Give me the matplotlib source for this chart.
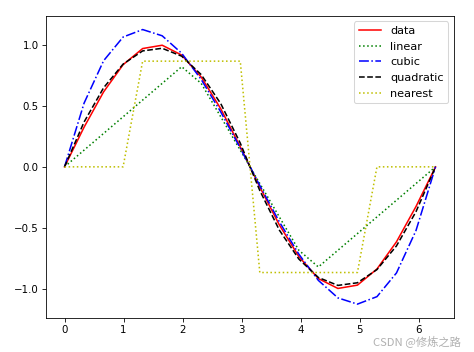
import matplotlib
matplotlib.use('Agg')
import matplotlib.pyplot as plt

# sample grid (20 points over 0..2pi) and curves
x_new = [0.0, 0.3307, 0.6614, 0.9921, 1.3228, 1.6535, 1.9842, 2.3149, 2.6456, 2.9762,
         3.3069, 3.6376, 3.9683, 4.2990, 4.6297, 4.9604, 5.2911, 5.6218, 5.9525, 6.2832]

data = [0.0, 0.3247, 0.6142, 0.8372, 0.9694, 0.9966, 0.9158, 0.7357, 0.4759, 0.1646,
        -0.1646, -0.4759, -0.7357, -0.9158, -0.9966, -0.9694, -0.8372, -0.6142, -0.3247, 0.0]

linear = [0.0, 0.1367, 0.2735, 0.4102, 0.5470, 0.6837, 0.8205, 0.6836, 0.4102, 0.1367,
          -0.1367, -0.4102, -0.6836, -0.8205, -0.6837, -0.5470, -0.4102, -0.2735, -0.1367, 0.0]

cubic = [0.0, 0.5216, 0.8693, 1.0637, 1.1250, 1.0739, 0.9307, 0.7159, 0.4500, 0.1534,
         -0.1534, -0.4500, -0.7159, -0.9307, -1.0739, -1.1250, -1.0637, -0.8693, -0.5216, 0.0]

quadratic = [0.0, 0.3671, 0.6477, 0.8420, 0.9500, 0.9716, 0.9068, 0.7557, 0.5181, 0.1943,
             -0.1943, -0.5181, -0.7557, -0.9068, -0.9716, -0.9500, -0.8420, -0.6477, -0.3671, 0.0]

nearest = [0.0, 0.0, 0.0, 0.0, 0.866, 0.866, 0.866, 0.866, 0.866, 0.866,
           -0.866, -0.866, -0.866, -0.866, -0.866, -0.866, 0.0, 0.0, 0.0, 0.0]

fig = plt.figure(figsize=(6.4, 4.753), dpi=74.0625)
ax = fig.add_subplot(111)
fig.subplots_adjust(left=0.097, right=0.958, bottom=0.097, top=0.955)

ax.plot(x_new, data, 'r', label='data')
ax.plot(x_new, linear, 'g:', label='linear')
ax.plot(x_new, cubic, 'b-.', label='cubic')
ax.plot(x_new, quadratic, 'k--', label='quadratic')
ax.plot(x_new, nearest, 'y:', label='nearest')
ax.legend(fontsize=11)

# watermark
fig.text(0.972, 0.012, 'CSDN @修炼之路', ha='right', va='bottom', fontsize=11,
         color='#b0b0b0', family=['Noto Sans CJK SC', 'DejaVu Sans'])

fig.savefig('out.png', dpi=74.0625)
